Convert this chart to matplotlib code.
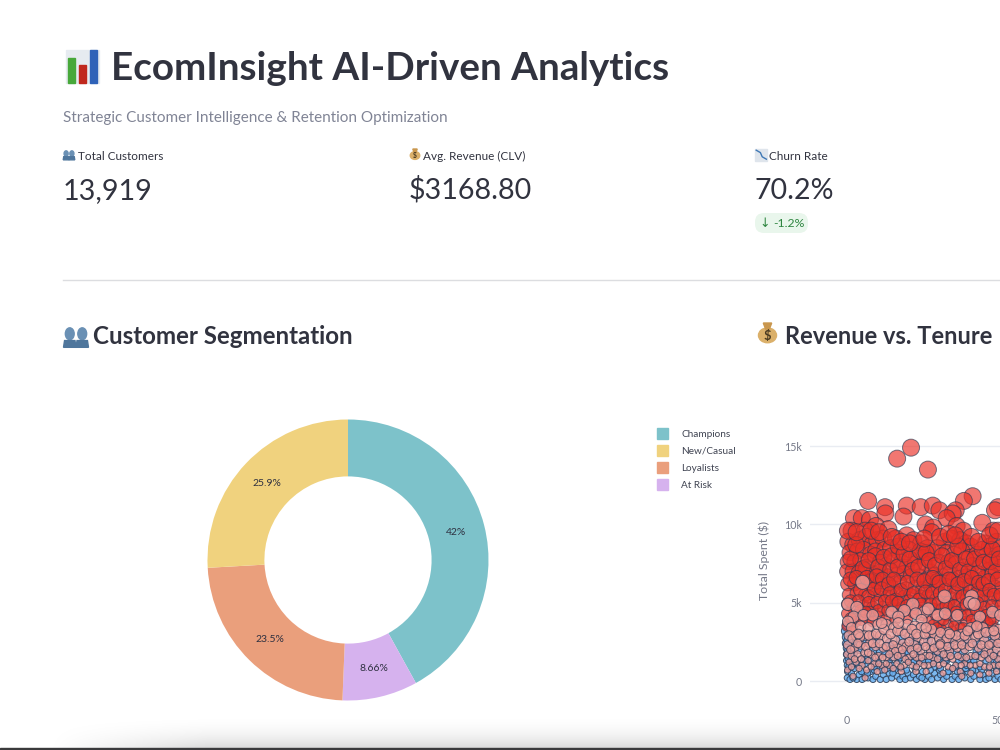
import numpy as np
import matplotlib
matplotlib.use("Agg")
import matplotlib.pyplot as plt
from matplotlib.patches import Rectangle, Ellipse, Polygon, FancyBboxPatch

plt.rcParams['font.family'] = ['Lato', 'DejaVu Sans']

# -----------------------------
# data
# -----------------------------
segments = ['Champions', 'At Risk', 'Loyalists', 'New/Casual']
segment_values = [42, 8.66, 23.5, 25.9]
segment_labels = ['42%', '8.66%', '23.5%', '25.9%']
segment_colors = ['#7dc2ca', '#d6b2ee', '#ea9f7c', '#f0d27e']
legend_order = ['Champions', 'New/Casual', 'Loyalists', 'At Risk']

metric_names = ['Total Customers', 'Avg. Revenue (CLV)', 'Churn Rate']
metric_values = ['13,919', '$3168.80', '70.2%']
churn_delta = '-1.2%'

y_ticks = [0, 5000, 10000, 15000]
y_tick_labels = ['0', '5k', '10k', '15k']
x_ticks = [0, 50]

# (tenure, total spent in $k)
red_points = [
    (21.2,14.9),(16.6,14.2),(26.8,13.5),(41.6,11.8),(38.7,11.5),(7.0,11.5),(12.6,11.1),(19.8,11.2),
    (24.4,11.1),(28.4,11.2),(50.0,11.1),(49.0,10.9),(30.6,10.9),(36.0,10.9),(12.7,10.7),(35.0,10.7),
    (18.7,10.5),(2.3,10.4),(4.9,10.4),(33.0,10.4),(7.6,10.3),(44.8,10.1),(26.0,10.0),(9.6,9.9),
    (36.3,9.9),(28.6,9.8),(13.7,9.7),(1.5,9.6),(48.5,9.6),(28.0,9.5),(6.0,9.6),(38.5,9.6),
    (0.4,8.9),(2.0,8.7),(4.2,9.0),(6.5,9.2),(8.3,8.7),(10.0,9.0),(12.0,9.1),(16.2,9.1),(19.8,9.3),
    (22.0,9.0),(24.5,8.8),(26.6,8.5),(32.3,8.9),(34.5,9.1),(37.5,9.0),(39.5,8.8),(41.0,8.6),(45.8,8.8),
    (47.2,8.6),(49.5,8.9),(51.0,8.5),(1.0,8.2),(3.5,8.3),(5.5,8.4),(7.8,8.1),(9.5,8.3),(12.5,8.4),
    (14.5,8.5),(17.3,8.2),(20.5,8.4),(23.0,8.0),(25.5,7.9),(28.5,8.2),(30.0,8.5),(33.0,8.2),(35.5,8.1),
    (38.0,8.3),(40.5,7.9),(43.0,8.1),(46.0,8.0),(48.5,7.8),(50.5,8.1),(0.3,7.6),(2.5,7.6),(4.5,7.7),
    (6.3,7.3),(9.4,8.0),(11.0,7.6),(13.0,7.4),(15.5,7.7),(18.0,7.6),(19.8,7.3),(22.5,7.5),(25.9,7.5),
    (27.8,7.0),(30.4,7.6),(33.5,7.6),(36.0,7.5),(38.8,7.3),(41.5,7.4),(44.0,7.3),(46.8,7.1),(49.5,7.5),
    (51.0,7.3),(0.0,7.0),(1.8,7.0),(3.8,6.9),(6.1,7.1),(8.5,6.9),(11.0,7.0),(13.5,6.7),(16.5,6.8),
    (18.7,6.9),(21.0,6.7),(24.0,6.7),(26.5,6.5),(29.0,6.8),(31.7,6.7),(34.0,6.9),(37.0,6.6),(39.5,6.7),
    (42.5,6.5),(45.5,6.6),(48.0,6.8),(50.5,6.6),(0.2,6.2),(2.5,6.2),(5.0,6.3),(7.5,6.1),(10.0,6.3),
    (12.5,6.1),(15.0,6.0),(17.5,6.3),(19.5,5.9),(22.5,6.0),(25.0,5.9),(27.5,6.1),(30.0,6.0),(33.0,6.1),
    (35.5,6.0),(38.0,5.9),(40.5,6.1),(43.5,5.9),(46.0,5.8),(49.0,6.0),(51.0,5.9),(0.6,5.5),(3.2,5.6),
    (6.0,5.5),(9.1,5.5),(11.0,5.5),(13.5,5.4),(16.5,5.6),(19.0,5.4),(21.0,5.5),(24.5,5.4),(26.8,5.4),
    (29.5,5.2),(32.0,5.4),(34.5,5.3),(37.0,5.2),(39.5,5.4),(42.0,5.2),(44.5,5.1),(47.5,5.3),(50.0,5.2),
    (0.2,4.9),(2.0,4.7),(5.5,4.8),(8.5,4.7),(12.0,4.7),(15.5,4.8),(18.5,4.7),(23.0,4.6),(26.0,4.5),
    (28.5,4.6),(31.5,4.6),(34.5,4.5),(38.0,4.6),(41.0,4.5),(44.0,4.3),(47.0,4.5),(50.0,4.4),(0.1,4.3),
    (3.0,4.2),(7.0,4.0),(10.5,4.1),(12.8,3.9),(16.0,3.9),(20.0,4.0),(30.7,3.8),(33.5,3.6),(36.0,3.9),
    (39.5,3.8),(42.5,3.7),(45.5,3.9),(0.0,3.5),(1.8,3.4),(31.3,3.3),(37.5,3.4),(40.5,3.2),(44.8,3.3),
    (48.5,3.5),(2.9,3.8),(27.5,3.1),(49.8,3.1),
    # denser part of the band
    (1.2,7.8),(3.0,8.7),(5.2,7.2),(7.2,7.7),(8.0,6.4),(10.4,7.3),(12.2,7.9),(14.3,7.1),(14.8,8.0),(16.8,7.3),
    (17.0,8.6),(18.9,8.1),(20.8,7.8),(21.7,7.1),(23.6,7.3),(24.3,8.3),(26.2,8.2),(27.2,7.7),(29.2,7.4),
    (29.8,6.4),(31.5,8.0),(32.7,7.2),(34.8,7.7),(35.0,6.5),(36.8,8.6),(37.4,7.1),(39.4,7.8),(40.2,7.0),
    (42.2,7.8),(43.3,6.9),(44.8,8.4),(45.2,7.6),(47.4,7.6),(48.1,8.4),(49.2,7.0),(50.4,7.8),(1.1,6.5),
    (3.1,6.6),(4.4,5.8),(6.6,6.6),(7.0,5.4),(9.0,5.9),(9.8,6.7),(11.8,6.5),(11.4,5.9),(13.8,6.2),(14.2,5.6),
    (15.5,6.5),(16.2,5.2),(17.8,5.8),(20.0,6.3),(20.5,5.1),(22.0,5.6),(23.2,6.5),(23.8,5.2),(25.5,6.4),
    (26.0,5.7),(28.2,5.6),(28.4,6.6),(30.5,6.3),(30.8,5.6),(32.5,5.8),(33.5,5.0),(33.8,6.5),(35.8,5.6),
    (36.7,6.2),(38.2,5.4),(38.8,6.4),(40.8,5.7),(41.3,6.6),(43.0,5.6),(43.6,6.3),(45.2,5.5),(45.0,6.2),
    (46.8,6.4),(47.2,5.8),(48.6,5.5),(49.8,6.5),(50.8,5.5),(1.2,5.1),(3.8,5.1),(4.5,4.5),(7.2,5.0),(7.6,4.4),
    (9.9,5.0),(10.5,4.5),(12.5,5.1),(13.5,4.5),(14.8,5.1),(17.0,5.0),(17.2,4.2),(19.8,4.8),(22.0,4.4),(24.5,4.9),
    (25.0,4.2),(27.8,4.9),(27.0,3.8),(29.5,4.2),(30.3,5.0),(32.8,4.8),(33.0,4.2),(35.5,4.8),(36.2,4.4),(37.6,4.2),
    (39.5,4.9),(39.8,4.2),(41.5,4.9),(42.8,4.5),(43.2,5.0),(45.5,4.7),(46.0,4.2),(48.0,4.8),(48.7,4.0),(51.0,4.8),
    (1.2,4.0),(2.0,3.2),(4.8,3.9),(6.2,4.4),(8.6,3.8),(28.6,3.6),(29.8,3.4),(32.0,3.9),(34.8,3.2),(35.4,3.5),
    (38.5,3.4),(41.3,3.9),(43.8,3.6),(46.6,3.7),(47.5,3.9),(0.3,9.6),(3.2,9.5),(8.0,9.6),(10.6,9.5),(14.8,9.2),
    (18.0,8.9),(20.8,8.8),(25.6,9.1),(30.8,9.2),(33.7,9.4),(35.8,9.3),(41.2,9.2),(43.5,8.9),(47.3,9.3),(50.0,9.6),
]

pink_points = [
    (5.2,6.3),(32.3,5.4),(41.3,5.4),(40.6,5.0),(42.1,4.9),(0.3,4.9),(3.3,4.7),(21.8,4.9),(25.6,4.4),
    (19.0,4.5),(26.9,4.6),(30.0,4.2),(32.5,4.3),(36.5,4.2),(48.2,4.4),(50.8,4.2),(44.0,4.1),(2.2,4.1),
    (5.5,4.2),(8.5,4.2),(14.8,4.4),(17.0,4.1),(22.8,4.3),(24.7,3.9),(10.3,3.6),(13.0,3.6),(0.3,3.8),
    (1.5,3.4),(4.5,3.5),(7.0,3.4),(15.5,3.4),(18.0,3.2),(20.0,3.6),(22.5,3.5),(24.5,3.4),(27.0,3.1),
    (29.0,3.0),(33.5,3.1),(38.0,3.0),(41.0,3.4),(45.0,3.4),(47.5,3.1),(50.3,3.3),(0.6,2.9),(3.0,2.9),
    (6.0,2.9),(8.5,2.9),(11.0,2.9),(13.2,2.7),(16.0,2.6),(18.5,2.4),(21.0,2.9),(23.5,2.8),(25.5,2.5),
    (28.0,2.5),(30.5,2.7),(32.5,2.5),(35.0,2.7),(37.5,2.6),(40.0,2.7),(42.5,2.8),(45.5,2.6),(48.0,2.4),
    (50.5,2.7),(0.2,2.3),(2.5,2.1),(4.5,2.3),(7.5,2.4),(9.5,2.2),(12.0,2.1),(14.5,2.0),(17.0,2.1),
    (19.5,2.2),(22.5,2.3),(24.5,1.9),(27.5,2.0),(30.0,1.9),(31.5,2.1),(34.0,1.9),(36.5,2.1),(39.0,2.0),
    (43.5,2.1),(46.0,2.0),(47.5,1.8),(49.5,2.0),(51.0,1.7),(0.1,1.7),(1.5,1.6),(3.5,1.7),(5.8,1.8),
    (8.0,1.7),(10.5,1.6),(13.0,1.5),(15.5,1.5),(18.0,1.7),(20.5,1.5),(23.0,1.5),(26.0,1.6),(28.5,1.5),
    (32.8,1.5),(35.0,1.4),(37.8,1.5),(41.0,1.6),(44.5,1.5),(47.0,1.4),(50.0,1.4),(0.7,1.2),(3.0,1.2),
    (5.0,1.0),(7.0,1.3),(9.0,1.1),(11.5,1.0),(14.0,1.0),(16.5,1.1),(19.0,1.0),(21.5,1.0),(24.0,1.1),
    (27.0,1.0),(30.5,1.0),(33.5,0.9),(36.0,1.0),(39.0,1.1),(42.5,1.0),(45.5,0.9),(48.5,1.0),(0.2,0.7),
    (2.0,0.3),(6.5,0.7),(10.0,0.6),(12.5,0.7),(18.0,0.6),(22.8,0.6),(26.2,0.6),(31.8,0.5),(37.5,0.6),
    (41.0,0.5),(44.0,0.4),(49.5,0.6),(6.0,0.2),(38.0,0.3),(47.0,0.5),
    # denser part of the band
    (1.8,2.7),(4.3,2.8),(7.3,2.9),(9.7,3.0),(12.2,3.3),(14.5,3.0),(16.8,3.2),(19.2,3.0),(21.5,3.3),(23.0,3.0),
    (25.8,3.0),(28.0,3.3),(31.0,3.1),(33.0,2.7),(36.2,2.9),(39.0,2.9),(43.5,3.0),(46.0,3.1),(49.0,2.9),(1.2,2.0),
    (3.6,2.4),(6.2,2.2),(8.5,2.4),(10.8,2.4),(13.0,2.2),(15.3,2.3),(16.0,1.9),(18.3,2.0),(20.6,2.5),(21.2,2.0),
    (23.3,2.1),(26.0,2.2),(28.8,2.1),(31.0,2.4),(33.3,2.2),(35.7,2.3),(38.0,2.3),(40.5,2.2),(41.5,2.4),(44.5,2.3),
    (47.0,2.3),(50.0,2.4),(2.5,1.4),(4.7,1.4),(7.0,1.8),(9.3,1.5),(11.8,1.5),(14.0,1.7),(16.8,1.6),(19.3,1.4),
    (22.0,1.7),(24.7,1.5),(27.3,1.6),(30.0,1.4),(32.0,1.7),(34.3,1.6),(36.7,1.6),(39.5,1.5),(42.5,1.6),(45.5,1.7),
    (48.5,1.6),(51.0,1.1),(1.5,0.9),(4.0,0.8),(8.0,0.9),(10.5,1.1),(13.0,1.1),(15.3,0.8),(17.8,0.9),(20.3,1.2),
    (23.0,0.9),(25.5,1.0),(28.6,1.1),(32.0,1.1),(35.0,0.8),(37.8,1.0),(40.8,1.0),(44.0,1.1),(47.2,0.9),(50.2,1.0),
    (3.8,3.0),(11.5,3.7),(17.0,3.7),(26.2,3.4),(30.8,2.3),(34.0,3.0),(48.6,3.2),(40.0,3.2),(43.0,3.5),
]

blue_points = [
    (-0.2,3.2),(0.0,2.8),(-0.1,2.4),(0.1,2.1),(0.0,1.7),(-0.1,1.3),(0.1,1.0),(0.2,0.6),(0.1,0.2),
    (1.0,0.1),(1.5,0.5),(2.5,0.8),(3.2,0.1),(4.0,0.4),(5.0,0.1),(5.8,0.5),(7.0,0.2),(7.8,0.6),(8.6,0.1),
    (9.5,0.3),(10.5,0.9),(11.0,0.1),(12.0,0.4),(13.0,0.1),(14.0,0.5),(14.8,0.2),(15.8,0.7),(16.6,0.3),
    (17.5,0.1),(18.5,0.3),(19.3,0.1),(20.2,0.5),(21.0,0.2),(22.0,0.4),(23.0,0.1),(24.0,0.3),(25.0,0.6),
    (25.8,0.1),(27.0,0.3),(28.0,0.1),(29.0,0.5),(30.0,0.2),(31.0,0.4),(32.0,0.1),(33.0,0.3),(34.0,0.6),
    (34.8,0.1),(35.8,0.3),(37.0,0.1),(38.0,0.5),(39.0,0.2),(40.0,0.6),(41.0,0.1),(42.0,0.3),(43.0,0.7),
    (44.0,0.1),(45.0,0.4),(46.0,0.1),(47.0,0.2),(48.0,0.5),(49.0,0.1),(50.0,0.3),(51.0,0.1),(6.0,1.1),
    (17.0,1.3),(26.0,1.2),(31.0,1.4),(38.0,1.3),(43.0,1.6),(47.5,2.4),(24.0,2.2),(51.0,2.4),(1.5,2.5),
    (1.0,1.5),(12.0,0.9),(29.0,0.9),(36.5,0.6),(2.0,0.2),(4.8,0.6),(6.8,0.5),(9.0,0.7),(11.5,0.7),(13.3,0.8),
    (15.2,0.5),(18.0,0.8),(19.7,0.7),(22.5,0.8),(24.8,0.2),(27.6,0.7),(30.6,0.7),(33.5,0.6),(36.0,0.9),(39.3,0.8),
    (41.6,0.7),(44.6,0.7),(46.8,0.8),(49.5,0.8),(3.7,1.0),(8.0,1.3),(14.0,1.2),(20.0,1.3),(23.0,1.2),(28.5,1.3),
    (33.0,1.3),(41.0,1.3),(46.0,1.3),(49.0,1.8),(0.2,3.6),(0.5,2.6),(0.4,1.9),(0.5,1.4),(0.6,0.9),
    # behind the pink band
    (2.3,1.8),(4.2,2.0),(6.0,1.5),(8.8,2.0),(10.3,1.3),(11.0,1.9),(12.8,1.8),(14.8,1.5),(15.5,2.0),(17.6,1.5),
    (19.0,1.8),(20.2,1.9),(21.8,1.4),(23.6,1.8),(25.2,1.3),(27.0,1.3),(27.6,1.8),(29.5,1.7),(30.8,1.6),(32.5,1.3),
    (33.5,1.8),(35.6,1.8),(37.0,1.3),(38.3,1.8),(40.2,1.4),(42.0,1.3),(43.0,1.9),(44.5,1.9),(46.5,1.7),(48.5,1.3),
    (49.5,1.2),(50.8,1.4),(2.0,1.1),(5.5,1.3),(9.0,0.9),(15.0,1.0),(22.0,1.2),(31.0,0.8),(39.5,1.0),(44.0,0.9),
    (3.0,2.4),(5.5,2.5),(9.5,2.6),(14.0,2.4),(17.8,2.7),(22.0,2.6),(26.8,2.6),(30.0,2.3),(34.0,2.4),(39.0,2.5),
    (43.0,2.4),(46.5,2.8),(49.0,2.6),
]

red_points = np.array(red_points)
pink_points = np.array(pink_points)
blue_points = np.array(blue_points)


# -----------------------------
# helpers
# -----------------------------
def px(fontsize_px):
    """css pixels to points at dpi 100"""
    return fontsize_px * 0.72


def draw_people(ax, x, y, w):
    for dx in (0.26, 0.74):
        cx = x + dx * w
        ax.add_patch(Ellipse((cx, y + 0.3 * w), 0.34 * w, 0.46 * w, color='#6a90b4'))
        ax.add_patch(Polygon([(cx - 0.24 * w, y + 0.82 * w), (cx - 0.2 * w, y + 0.56 * w),
                              (cx + 0.2 * w, y + 0.56 * w), (cx + 0.24 * w, y + 0.82 * w)],
                             color='#4f769c'))


def draw_bag(ax, x, y, w):
    ax.add_patch(Ellipse((x + 0.5 * w, y + 0.65 * w), 0.95 * w, 0.78 * w, color='#dbb06a'))
    ax.add_patch(Polygon([(x + 0.28 * w, y), (x + 0.72 * w, y), (x + 0.6 * w, y + 0.32 * w),
                          (x + 0.4 * w, y + 0.32 * w)], color='#c9974e'))
    ax.text(x + 0.5 * w, y + 0.66 * w, r'\$', ha='center', va='center',
            fontsize=px(0.68 * w), color='#4a3a20', fontweight='bold')


def draw_bars(ax, x, y, w):
    ax.add_patch(Rectangle((x, y), w, w, color='#e6ebf0'))
    ax.add_patch(Rectangle((x + 0.06 * w, y + 0.24 * w), 0.22 * w, 0.76 * w, color='#47a83a'))
    ax.add_patch(Rectangle((x + 0.39 * w, y + 0.45 * w), 0.22 * w, 0.55 * w, color='#c0281e'))
    ax.add_patch(Rectangle((x + 0.72 * w, y), 0.22 * w, w, color='#2f62b8'))


def draw_decline(ax, x, y, w):
    ax.add_patch(Rectangle((x, y), w, w, color='#dfe5ec'))
    ax.plot([x + 0.1 * w, x + 0.45 * w, x + 0.6 * w, x + 0.95 * w],
            [y + 0.1 * w, y + 0.3 * w, y + 0.65 * w, y + 0.85 * w], color='#3f78b5', lw=1.0)


# -----------------------------
# figure
# -----------------------------
fig = plt.figure(figsize=(10, 7.5), dpi=100, facecolor='white')

# donut
donut = fig.add_axes([(348 - 170) / 1000, 1 - (560 + 170) / 750, 340 / 1000, 340 / 750])
wedges, _ = donut.pie(segment_values, colors=segment_colors, startangle=90, counterclock=False,
                      radius=1.0, wedgeprops=dict(width=0.405, edgecolor='none'))
donut.set_xlim(-170 / 140.5, 170 / 140.5)
donut.set_ylim(-170 / 140.5, 170 / 140.5)
total = sum(segment_values)
angle = 0.0
for value, label in zip(segment_values, segment_labels):
    mid = np.deg2rad(angle + value / total * 180)
    donut.text(0.797 * np.sin(mid), 0.797 * np.cos(mid), label, ha='center', va='center',
               fontsize=px(10.4), color='#2e3040')
    angle += value / total * 360

# scatter, cut off by the right edge of the screenshot
ax = fig.add_axes([810 / 1000, 1 - 705 / 750, 190 / 1000, 275 / 750])
ax.set_xlim((810 - 847) / 3.02, (1000 - 847) / 3.02)
ax.set_ylim((681 - 705) / 78.3 * 5000, (681 - 430) / 78.3 * 5000)
ax.set_facecolor('none')


def sizes(points):
    # marker diameter in px grows with spend, with a floor and a ceiling
    d = np.clip(5.6 * np.sqrt(points[:, 1]), 6.2, 17)
    return (d * 0.72) ** 2


edge = '#2c3a52'
ax.scatter(blue_points[:, 0], blue_points[:, 1] * 1000, s=sizes(blue_points), c='#66adee',
           edgecolors=edge, linewidths=0.7, alpha=0.85, zorder=3)
ax.scatter(red_points[:, 0], red_points[:, 1] * 1000, s=sizes(red_points), c='#ea2f25',
           edgecolors=edge, linewidths=0.7, alpha=0.65, zorder=4)
ax.scatter(pink_points[:, 0], pink_points[:, 1] * 1000, s=sizes(pink_points), c='#ec9c98',
           edgecolors=edge, linewidths=0.7, alpha=0.8, zorder=5)

ax.set_yticks(y_ticks)
ax.set_yticklabels(y_tick_labels)
ax.set_xticks(x_ticks)
ax.tick_params(axis='both', length=0, labelsize=px(10.6), labelcolor='#747887')
ax.tick_params(axis='y', pad=6)
ax.tick_params(axis='x', pad=7)
ax.grid(axis='y', color='#e9ecf2', lw=1)
ax.set_axisbelow(True)
for side in ax.spines.values():
    side.set_visible(False)
ax.set_ylabel(r'Total Spent (\$)', fontsize=px(12.4), color='#747887', va='center')
ax.yaxis.set_label_coords((764 - 810) / 190, (705 - 560) / 275)

# page layer in pixel coordinates
page = fig.add_axes([0, 0, 1, 1], zorder=10)
page.set_xlim(0, 1000)
page.set_ylim(750, 0)
page.axis('off')
dark = '#31333f'

draw_bars(page, 66, 50, 33)
page.text(111, 80, 'EcomInsight AI-Driven Analytics', fontsize=px(38.6), fontweight='bold',
          color=dark, va='baseline')
page.text(63, 122, 'Strategic Customer Intelligence & Retention Optimization', fontsize=px(15.25),
          color='#808495', va='baseline')

draw_people(page, 63, 150, 12)
draw_bag(page, 410, 149, 10)
draw_decline(page, 755, 149, 12)
for x, name in zip((78, 423, 769), metric_names):
    page.text(x, 160, name, fontsize=px(11.8), color=dark, va='baseline')
for x, value in zip((63, 409, 755), metric_values):
    page.text(x, 199, value.replace('$', r'\$'), fontsize=px(28.6), color=dark, va='baseline')

page.add_patch(FancyBboxPatch((755, 213), 53, 20, boxstyle='round,pad=0,rounding_size=9',
                              facecolor='#e9f6ec', edgecolor='none'))
page.text(759, 227, '\u2193', fontsize=px(12.5), color='#2e8540', va='baseline',
          family=['DejaVu Sans'])
page.text(773, 227, churn_delta, fontsize=px(12.2), color='#2e8540', va='baseline')

page.plot([63, 1000], [280, 280], color='#dcdde0', lw=1)

draw_people(page, 63, 326, 26)
page.text(93, 344, 'Customer Segmentation', fontsize=px(24.1), fontweight='bold', color=dark, va='baseline')
draw_bag(page, 758, 323, 19)
page.text(785, 344, 'Revenue vs. Tenure', fontsize=px(23.6), fontweight='bold', color=dark, va='baseline')

# legend
for i, name in enumerate(legend_order):
    y = 433 + i * 17
    color = segment_colors[segments.index(name)]
    page.add_patch(Rectangle((657, y - 5.5), 11, 11, color=color))
    page.text(681, y + 4, name, fontsize=px(10), color='#404452', va='baseline')

# window shadow at the bottom of the screenshot
yy = np.linspace(0, 1, 40)[:, None]
xx = np.clip(np.linspace(-0.3, 6, 400)[None, :], 0, 1)
alpha = (yy ** 2.2) * xx * 0.14
shadow = np.zeros((40, 400, 4))
shadow[..., 3] = alpha
page.imshow(shadow, extent=(0, 1000, 748, 712), aspect='auto', zorder=20)
page.add_patch(Rectangle((0, 748), 1000, 2, color='#3a3a3c', zorder=21))
page.set_xlim(0, 1000)
page.set_ylim(750, 0)

fig.savefig('out.png', dpi=100)
